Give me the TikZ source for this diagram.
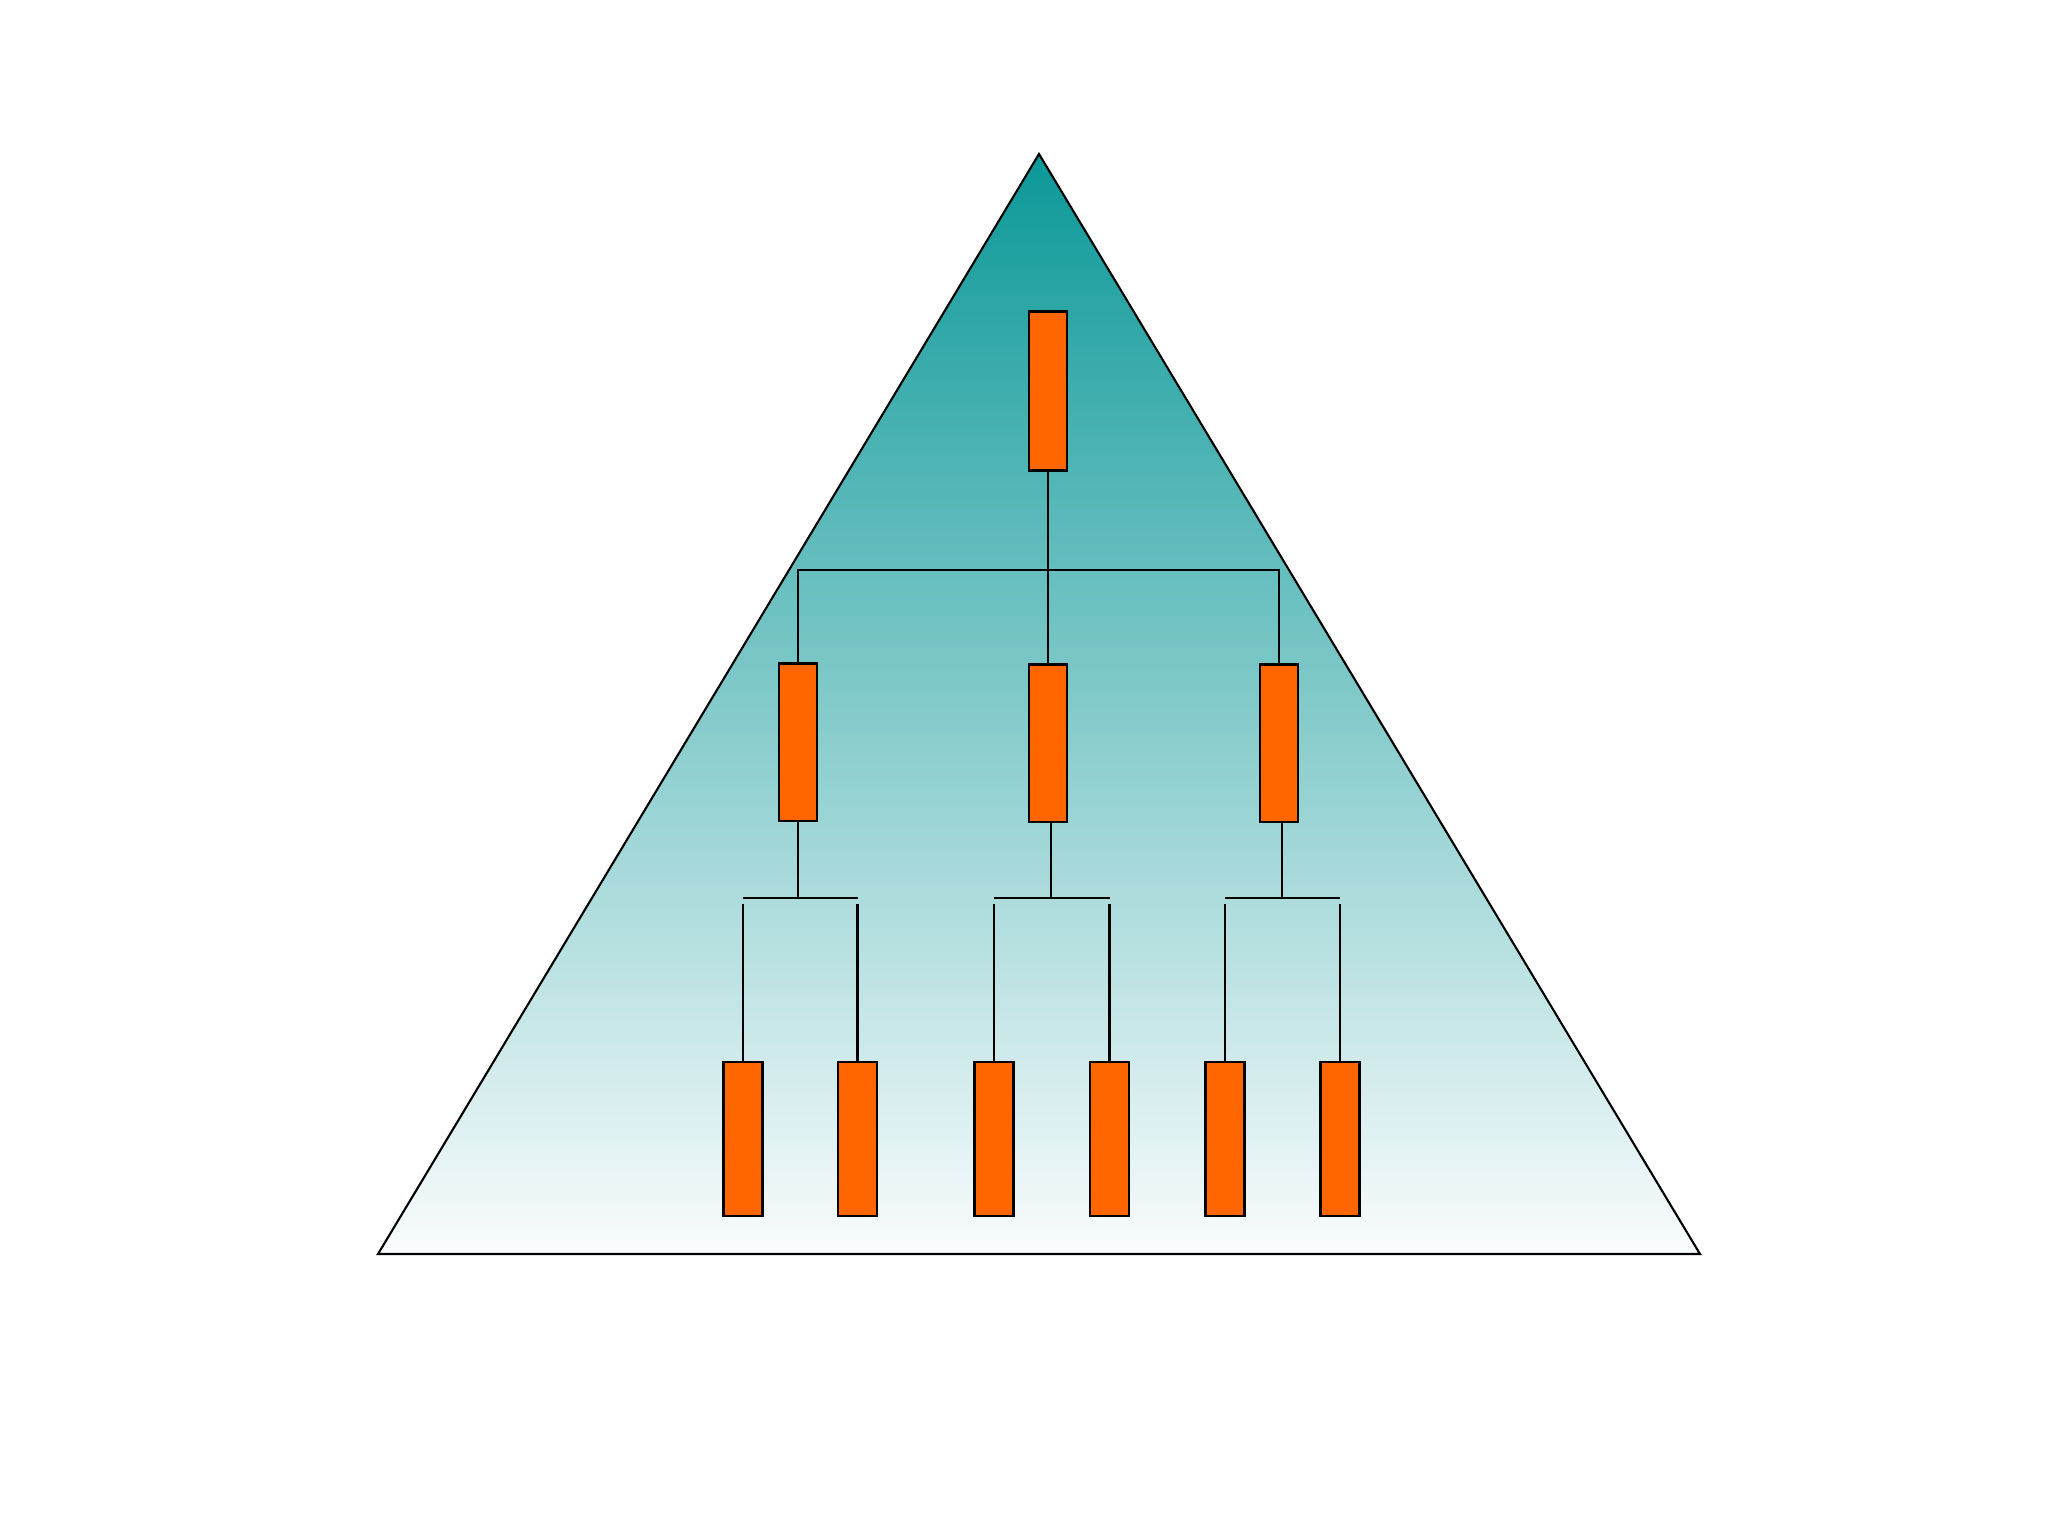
\documentclass[tikz,border=0pt]{standalone}
\usetikzlibrary{positioning}
\definecolor{pyrtop}{RGB}{12,152,152}
\definecolor{pyrbottom}{RGB}{250,252,253}
\definecolor{boxorange}{RGB}{255,102,0}
\begin{document}
\begin{tikzpicture}[x=0.01cm,y=-0.01cm,line width=0.6pt,
    unitbox/.style={draw=black,fill=boxorange,minimum width=0.385cm,minimum height=1.57cm,inner sep=0pt},
    leafbox/.style={unitbox,minimum width=0.39cm,minimum height=1.54cm}]
    \useasboundingbox (0,0) rectangle (2048,1536);
    % Pyramid
    \shade[top color=pyrtop,bottom color=pyrbottom] (1039,154) -- (1700,1254) -- (378,1254) -- cycle;
    \draw (1039,154) -- (1700,1254) -- (378,1254) -- cycle;
    % Top box
    \node[unitbox,minimum height=1.59cm] (top) at (1048,391) {};
    % Middle boxes
    \node[unitbox] (mgrA) at (798,742) {};
    \node[unitbox] (mgrB) at (1048,743) {};
    \node[unitbox] (mgrC) at (1279,743) {};
    % Bottom boxes
    \node[leafbox] (leafA1) at (743,1139) {};
    \node[leafbox] (leafA2) at (857.5,1139) {};
    \node[leafbox] (leafB1) at (994,1139) {};
    \node[leafbox] (leafB2) at (1109.5,1139) {};
    \node[leafbox] (leafC1) at (1225,1139) {};
    \node[leafbox] (leafC2) at (1340,1139) {};
    % Top to middle
    \coordinate (hub) at (1048,570);
    \draw (top.south) -- (hub);
    \draw (mgrA.north) -- (mgrA.north |- hub) -- (mgrC.north |- hub) -- (mgrC.north);
    \draw (hub) -- (mgrB.north);
    % Middle to bottom, left group
    \coordinate (forkA) at (798,898);
    \draw (mgrA.south) -- (mgrA.south |- forkA);
    \draw (leafA1.north |- forkA) -- (leafA2.north |- forkA);
    \draw (leafA1.north) -- ++(0,-157);
    \draw (leafA2.north) -- ++(0,-157);
    % Middle to bottom, centre group
    \coordinate (forkB) at (1051,898);
    \draw (mgrB.south -| forkB) -- (forkB);
    \draw (leafB1.north |- forkB) -- (leafB2.north |- forkB);
    \draw (leafB1.north) -- ++(0,-157);
    \draw (leafB2.north) -- ++(0,-157);
    % Middle to bottom, right group
    \coordinate (forkC) at (1282,898);
    \draw (mgrC.south -| forkC) -- (forkC);
    \draw (leafC1.north |- forkC) -- (leafC2.north |- forkC);
    \draw (leafC1.north) -- ++(0,-157);
    \draw (leafC2.north) -- ++(0,-157);
\end{tikzpicture}
\end{document}
